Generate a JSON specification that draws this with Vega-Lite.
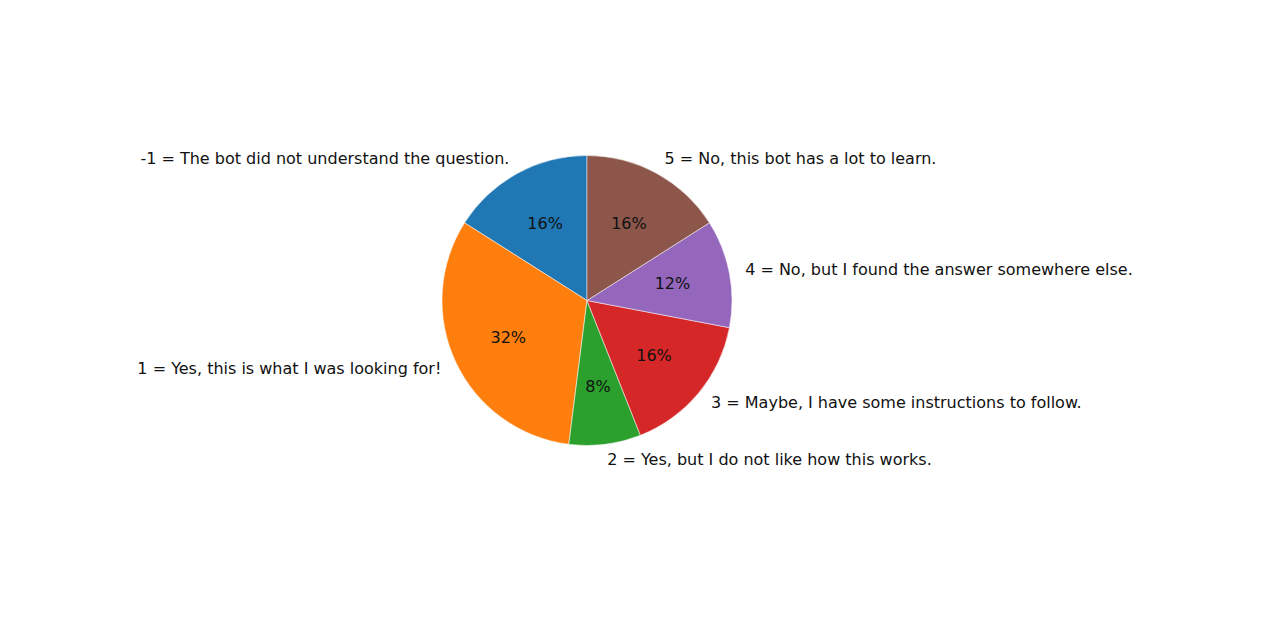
{
  "$schema": "https://vega.github.io/schema/vega-lite/v6.json",
  "autosize": "none",
  "padding": 0,
  "width": 1174,
  "height": 601,
  "background": "white",
  "view": {"stroke": null},
  "data": {
    "values": [
      {"key": -1, "label": "-1 = The bot did not understand the question.", "share": 0.16},
      {"key": 1, "label": "1 = Yes, this is what I was looking for!", "share": 0.32},
      {"key": 2, "label": "2 = Yes, but I do not like how this works.", "share": 0.08},
      {"key": 3, "label": "3 = Maybe, I have some instructions to follow.", "share": 0.16},
      {"key": 4, "label": "4 = No, but I found the answer somewhere else.", "share": 0.12},
      {"key": 5, "label": "5 = No, this bot has a lot to learn.", "share": 0.16}
    ]
  },
  "encoding": {
    "theta": {"field": "share", "type": "quantitative", "stack": true},
    "order": {"field": "key", "type": "quantitative", "sort": "descending"}
  },
  "layer": [
    {
      "mark": {"type": "arc", "outerRadius": 145, "stroke": "white", "strokeWidth": 0.5},
      "encoding": {
        "color": {
          "field": "key",
          "type": "nominal",
          "scale": {"domain": [-1, 1, 2, 3, 4, 5], "range": ["#1f77b4", "#ff7f0e", "#2ca02c", "#d62728", "#9467bd", "#8c564b"]},
          "legend": null
        }
      }
    },
    {
      "mark": {"type": "text", "radius": 87, "font": "DejaVu Sans", "fontSize": 16, "color": "#111", "baseline": "middle", "align": "center"},
      "encoding": {
        "text": {"field": "share", "type": "quantitative", "format": ".0%"}
      }
    },
    {
      "mark": {"type": "text", "radius": 161, "font": "DejaVu Sans", "fontSize": 16, "color": "#111", "baseline": "middle", "align": "right"},
      "encoding": {
        "text": {"condition": {"test": "datum.key < 2", "field": "label"}, "value": ""}
      }
    },
    {
      "mark": {"type": "text", "radius": 161, "font": "DejaVu Sans", "fontSize": 16, "color": "#111", "baseline": "middle", "align": "left"},
      "encoding": {
        "text": {"condition": {"test": "datum.key >= 2", "field": "label"}, "value": ""}
      }
    }
  ]
}
